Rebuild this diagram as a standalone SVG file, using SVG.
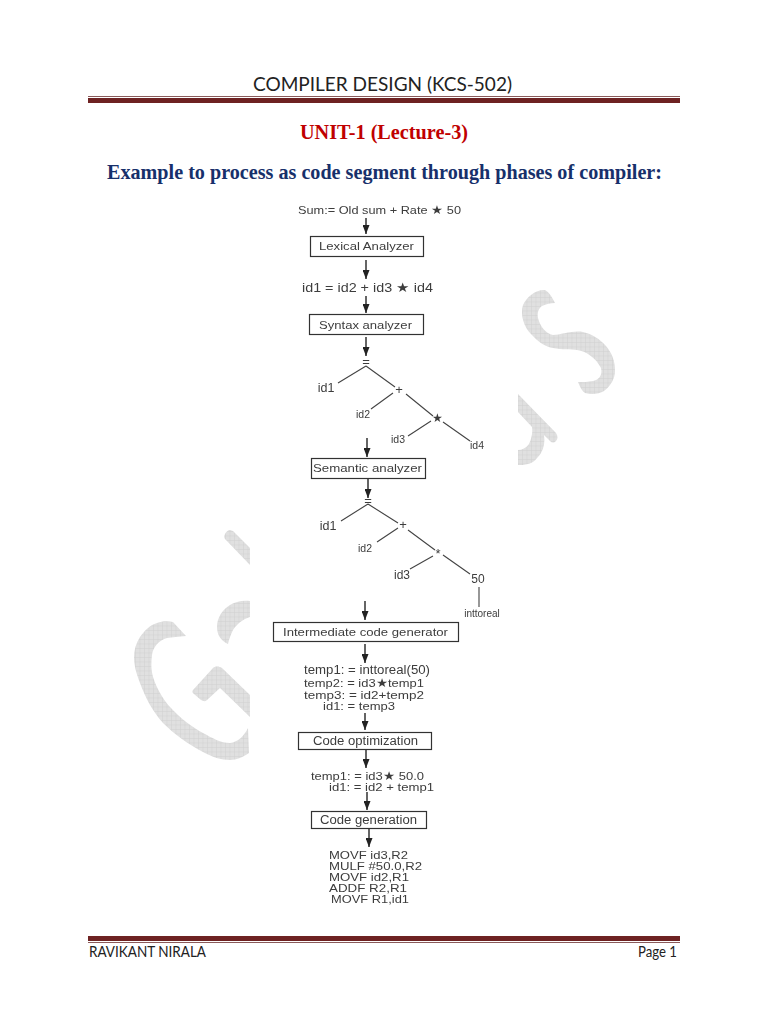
<svg xmlns="http://www.w3.org/2000/svg" width="768" height="1024" viewBox="0 0 768 1024">
<style>
text{font-family:"Liberation Sans",Arial,sans-serif;font-size:11.5px;fill:#3c3c3c}
.box{fill:#fff;stroke:#333;stroke-width:1.2}
.lab{font-size:10.5px}
.head{font-family:Lato,"Open Sans",sans-serif;fill:#222}
.unit{font-family:"Liberation Serif",serif;font-weight:bold;font-size:20px;fill:#c00000}
.ex{font-family:"Liberation Serif",serif;font-weight:bold;font-size:21px;fill:#17306b}
.arrow{fill:none;stroke:#222;stroke-width:1.4;marker-end:url(#ah)}
.edge{fill:none;stroke:#444;stroke-width:1.1}
</style>
<defs>
<marker id="ah" markerUnits="userSpaceOnUse" markerWidth="10" markerHeight="7" refX="9" refY="3.5" orient="auto"><path d="M0 0L9 3.5L0 7z" fill="#222"/></marker>
<pattern id="wm" width="4.5" height="4.5" patternUnits="userSpaceOnUse"><rect width="4.5" height="4.5" fill="#e0e0e0"/><path d="M0 0H4.5M0 0V4.5" stroke="#cccccc" stroke-width=".7"/></pattern>
<filter id="soft" x="-5%" y="-5%" width="110%" height="110%"><feGaussianBlur stdDeviation="0.35"/></filter>
</defs>
<rect width="768" height="1024" fill="#fff"/>
<g id="watermark" fill="url(#wm)">
<path d="M555 303C552 297 549 292 545 290C537 289 527 296 523 305C520 315 524 327 531 334C538 342 546 347 553 348C562 350 571 349 577 350C586 351 596 358 601 368C603 376 598 380 593 381C588 382 583 382 578 382C580 387 582 391 585 393C592 395 599 394 604 391C611 386 615 378 615 371C615 361 612 353 606 346C600 339 592 334 583 332C573 330 561 335 553 335C546 334 540 326 538 318C537 312 539 308 542 306C546 304 551 303 555 303Z"/>
<path d="M518 394L556 433C558 436 558 439 556 441C554 443 552 443 550 441L544 435C545 442 544 448 541 453C537 459 533 463 528 464C524 465 521 465 518 465L518 450C522 450 526 448 529 444C531 440 533 433 532 427L518 412Z"/>
<path d="M173 622L186 636C179 637 172 637 167 638C159 640 153 647 152 655C151 663 151 670 153 677C157 689 163 699 170 707C181 719 192 727 203 733C212 738 221 743 230 743C238 742 244 736 248 728L249 753C243 757 237 760 230 760C221 760 212 757 203 752C188 744 175 735 163 723C153 712 145 697 140 683C136 673 134 665 134 657C134 650 136 643 140 637C145 630 150 625 157 623C162 621 168 621 173 622Z"/>
<path d="M193 690L213 668C215 666 219 666 222 668L250 695L250 717L220 688L207 700C205 702 203 701 201 700L194 694C192 693 192 691 193 690Z"/>
<path d="M250 601C242 600 235 602 230 605C222 610 217 618 217 627C217 634 220 640 228 644C229 639 231 634 233 630C237 624 243 619 250 617Z"/>
<path d="M230 530C228 530 226 532 225 534C224 536 224 538 225 539L250 565L250 548L233 531Z"/>
</g>
<g id="header">
<text class="head" x="253" y="91" style="font-size:19px" textLength="259" lengthAdjust="spacingAndGlyphs">COMPILER DESIGN (KCS-502)</text>
<rect x="88" y="96" width="592" height="1" fill="#8a5a5a"/>
<rect x="88" y="98" width="592" height="5" fill="#6e2222"/>
<text class="unit" x="300" y="139" textLength="168" lengthAdjust="spacingAndGlyphs">UNIT-1 (Lecture-3)</text>
<text class="ex" x="107" y="179" textLength="555" lengthAdjust="spacingAndGlyphs">Example to process as code segment through phases of compiler:</text>
</g>
<g id="footer">
<rect x="88" y="936" width="592" height="5" fill="#6e2222"/>
<rect x="88" y="942" width="592" height="1" fill="#8a5a5a"/>
<text class="head" x="89" y="957" style="font-size:14.500px" textLength="117" lengthAdjust="spacingAndGlyphs">RAVIKANT NIRALA</text>
<text class="head" x="638" y="957" style="font-size:14.500px" textLength="39" lengthAdjust="spacingAndGlyphs">Page 1</text>
</g>
<g filter="url(#soft)">
<g id="connectors">
<path class="arrow" d="M366 218V234"/>
<path class="arrow" d="M366 260V279"/>
<path class="arrow" d="M366 296V313"/>
<path class="arrow" d="M366 337V356"/>
<path class="arrow" d="M367 438V457"/>
<path class="arrow" d="M368 478V498"/>
<path class="arrow" d="M365 601V620"/>
<path class="arrow" d="M365 644V663"/>
<path class="arrow" d="M365 713V730"/>
<path class="arrow" d="M366 749V768"/>
<path class="arrow" d="M367 792V810"/>
<path class="arrow" d="M369 828V847"/>
<path class="edge" d="M366 366L338 383M366 366L395 387M393 393L371 409M406 394L433 416M431 421L408 436M443 422L470 441"/>
<path class="edge" d="M368 504L341 521M368 504L398 523M398 528L377 542M408 530L435 550M433 556L410 569M443 555L470 574M479 587V607"/>
</g>
<g id="n-source"><text x="298" y="214" textLength="163" lengthAdjust="spacingAndGlyphs">Sum:= Old sum + Rate ★ 50</text></g>
<g id="n-lexical"><rect class="box" x="310.500" y="236.500" width="113" height="20"/><text class="lab" x="319" y="250" textLength="95" lengthAdjust="spacingAndGlyphs">Lexical Analyzer</text></g>
<g id="n-tokens"><text x="302" y="292" style="font-size:12.500px" textLength="131" lengthAdjust="spacingAndGlyphs">id1 = id2 + id3 ★ id4</text></g>
<g id="n-syntax"><rect class="box" x="309.500" y="314.500" width="114" height="20"/><text class="lab" x="319" y="329" textLength="93" lengthAdjust="spacingAndGlyphs">Syntax analyzer</text></g>
<g id="n-tree1" text-anchor="middle">
<text x="366" y="366" style="font-size:13px">=</text>
<text x="326" y="392" style="font-size:12.500px">id1</text>
<text x="399" y="394" style="font-size:13px">+</text>
<text x="363" y="418" class="lab">id2</text>
<text x="437" y="422" style="font-size:12px">★</text>
<text x="398" y="443" class="lab">id3</text>
<text x="477" y="449" class="lab">id4</text>
</g>
<g id="n-semantic"><rect class="box" x="311.500" y="458.500" width="114" height="20"/><text class="lab" x="313" y="472" textLength="109" lengthAdjust="spacingAndGlyphs">Semantic analyzer</text></g>
<g id="n-tree2" text-anchor="middle">
<text x="368" y="505" style="font-size:13px">=</text>
<text x="328" y="530" style="font-size:12.500px">id1</text>
<text x="403" y="529" style="font-size:13px">+</text>
<text x="365" y="552" class="lab">id2</text>
<text x="438" y="558" style="font-size:13px">*</text>
<text x="402" y="579" style="font-size:12px">id3</text>
<text x="478" y="583" style="font-size:12px">50</text>
<text x="482" y="617" style="font-size:10px">inttoreal</text>
</g>
<g id="n-intermediate"><rect class="box" x="273.500" y="622.500" width="185" height="19"/><text class="lab" x="283" y="636" textLength="165" lengthAdjust="spacingAndGlyphs">Intermediate code generator</text></g>
<g id="n-code3">
<text x="304" y="674" style="font-size:12px" textLength="126" lengthAdjust="spacingAndGlyphs">temp1: = inttoreal(50)</text>
<text x="304" y="687" textLength="120" lengthAdjust="spacingAndGlyphs">temp2: = id3★temp1</text>
<text x="304" y="699" textLength="120" lengthAdjust="spacingAndGlyphs">temp3: = id2+temp2</text>
<text x="323" y="710" textLength="72" lengthAdjust="spacingAndGlyphs">id1: = temp3</text>
</g>
<g id="n-optimization"><rect class="box" x="298.500" y="732.500" width="133" height="17"/><text x="313" y="745" style="font-size:12px" textLength="105" lengthAdjust="spacingAndGlyphs">Code optimization</text></g>
<g id="n-code2">
<text x="311" y="780" textLength="113" lengthAdjust="spacingAndGlyphs">temp1: = id3★ 50.0</text>
<text x="329" y="791" textLength="105" lengthAdjust="spacingAndGlyphs">id1: = id2 + temp1</text>
</g>
<g id="n-generation"><rect class="box" x="311.500" y="811.500" width="115" height="17"/><text x="320" y="824" style="font-size:12px" textLength="97" lengthAdjust="spacingAndGlyphs">Code generation</text></g>
<g id="n-target">
<text x="329" y="859" textLength="79" lengthAdjust="spacingAndGlyphs">MOVF id3,R2</text>
<text x="329" y="870" textLength="93" lengthAdjust="spacingAndGlyphs">MULF #50.0,R2</text>
<text x="329" y="881" textLength="80" lengthAdjust="spacingAndGlyphs">MOVF id2,R1</text>
<text x="329" y="892" textLength="78" lengthAdjust="spacingAndGlyphs">ADDF R2,R1</text>
<text x="331" y="903" textLength="78" lengthAdjust="spacingAndGlyphs">MOVF R1,id1</text>
</g>
</g>
</svg>
